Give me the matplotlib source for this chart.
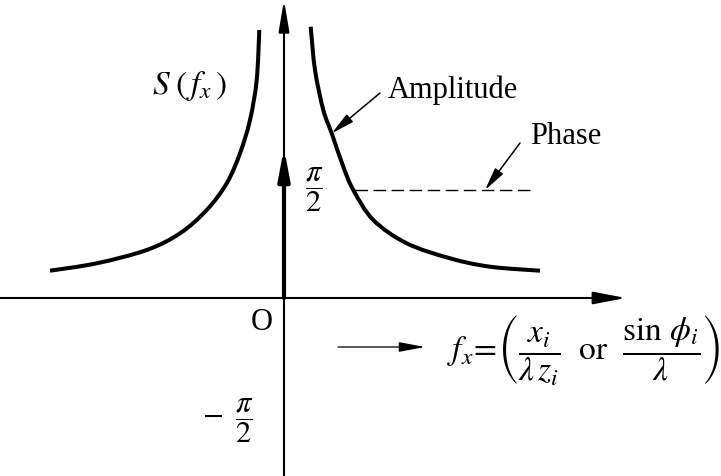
import matplotlib
matplotlib.use("Agg")
import matplotlib.pyplot as plt
from matplotlib.path import Path
from matplotlib.patches import PathPatch

plt.rcParams['font.family'] = ['Liberation Serif', 'DejaVu Serif']
plt.rcParams['mathtext.fontset'] = 'stix'

# ---- data (pixel-like units, origin at the axes crossing) ----
amp_right_fx = [26.7, 31, 39.3, 47.7, 59.3, 69.3, 89.3, 122.7, 166, 206, 256]
amp_right_S = [271.3, 228, 188, 164.7, 131.3, 108, 78, 54.7, 39.7, 31.3, 27.3]
amp_left_fx = [-24.7, -27.3, -34, -44, -57.3, -77.3, -104, -137.3, -187.3, -234]
amp_left_S = [268, 218, 178, 144.7, 114.7, 88, 64.7, 48, 34.7, 27.3]
phase_fx = [71, 251]
phase_val = [108, 108]
delta_height = 150

W, H = 721, 476
OX, OY = 284, 298

fig = plt.figure(figsize=(W / 100, H / 100), dpi=100)
ax = fig.add_axes([0, 0, 1, 1])
ax.set_xlim(-OX, W - OX)
ax.set_ylim(-(H - OY), OY)
ax.axis('off')


def smooth_curve(xs, ys, **kw):
    """Draw a smooth Bezier path through the given points (Catmull-Rom)."""
    pts = list(zip(xs, ys))
    n = len(pts)
    verts = [pts[0]]
    codes = [Path.MOVETO]
    for i in range(n - 1):
        p0 = pts[i - 1] if i > 0 else pts[i]
        p1 = pts[i]
        p2 = pts[i + 1]
        p3 = pts[i + 2] if i + 2 < n else pts[i + 1]
        c1 = (p1[0] + (p2[0] - p0[0]) / 6, p1[1] + (p2[1] - p0[1]) / 6)
        c2 = (p2[0] - (p3[0] - p1[0]) / 6, p2[1] - (p3[1] - p1[1]) / 6)
        verts += [c1, c2, p2]
        codes += [Path.CURVE4] * 3
    ax.add_patch(PathPatch(Path(verts, codes), fill=False, **kw))


def arrow(x0, y0, x1, y1, lw, hl, hw, ms=10):
    ax.annotate('', xy=(x1, y1), xytext=(x0, y0),
                arrowprops=dict(arrowstyle=f'-|>,head_length={hl},head_width={hw}',
                                lw=lw, color='black', shrinkA=0, shrinkB=0,
                                mutation_scale=ms))

# axes
arrow(-OX, 0, 342, 0, 1.5, 2.0, 0.38)
arrow(0, -(H - OY), 0, OY, 1.5, 1.9, 0.32)
# thick arrow at origin
arrow(0, 0, 0, delta_height, 3.0, 1.8, 0.34)

# amplitude curve
smooth_curve(amp_right_fx, amp_right_S, color='black', lw=2.9, capstyle='butt')
smooth_curve(amp_left_fx, amp_left_S, color='black', lw=2.9, capstyle='butt')

# phase dashed line
ax.plot(phase_fx, phase_val, color='black', lw=1.0, dashes=(9, 4))

# annotation arrows
arrow(96, 205, 47.7, 164.7, 1.1, 1.4, 0.3)
arrow(236, 155, 201, 108, 1.1, 1.4, 0.3)
arrow(54, -49, 141, -49, 0.9, 1.6, 0.3)

fs = 22
ax.text(104, 208, 'Amplitude', fontsize=fs, ha='left', va='center')
ax.text(246, 161, 'Phase', fontsize=fs, ha='left', va='center')
ax.text(-132, 212, r'$S\;(\,f_x\,)$', fontsize=24, ha='left', va='center')
ax.text(30, 108, r'$\dfrac{\pi}{2}$', fontsize=fs, ha='center', va='center')
ax.text(-56, -123, r'$-\;\;\dfrac{\pi}{2}$', fontsize=fs, ha='center', va='center')
ax.text(-22, -24, 'O', fontsize=fs, ha='center', va='center')
ax.text(163, -52,
        r'$f_x\!=\!\left(\dfrac{x_i}{\lambda\, z_i}\ \ \mathrm{or}\ \ \dfrac{\sin\,\phi_i}{\lambda}\right)$',
        fontsize=24, ha='left', va='center')

fig.savefig('out.png', dpi=100)
